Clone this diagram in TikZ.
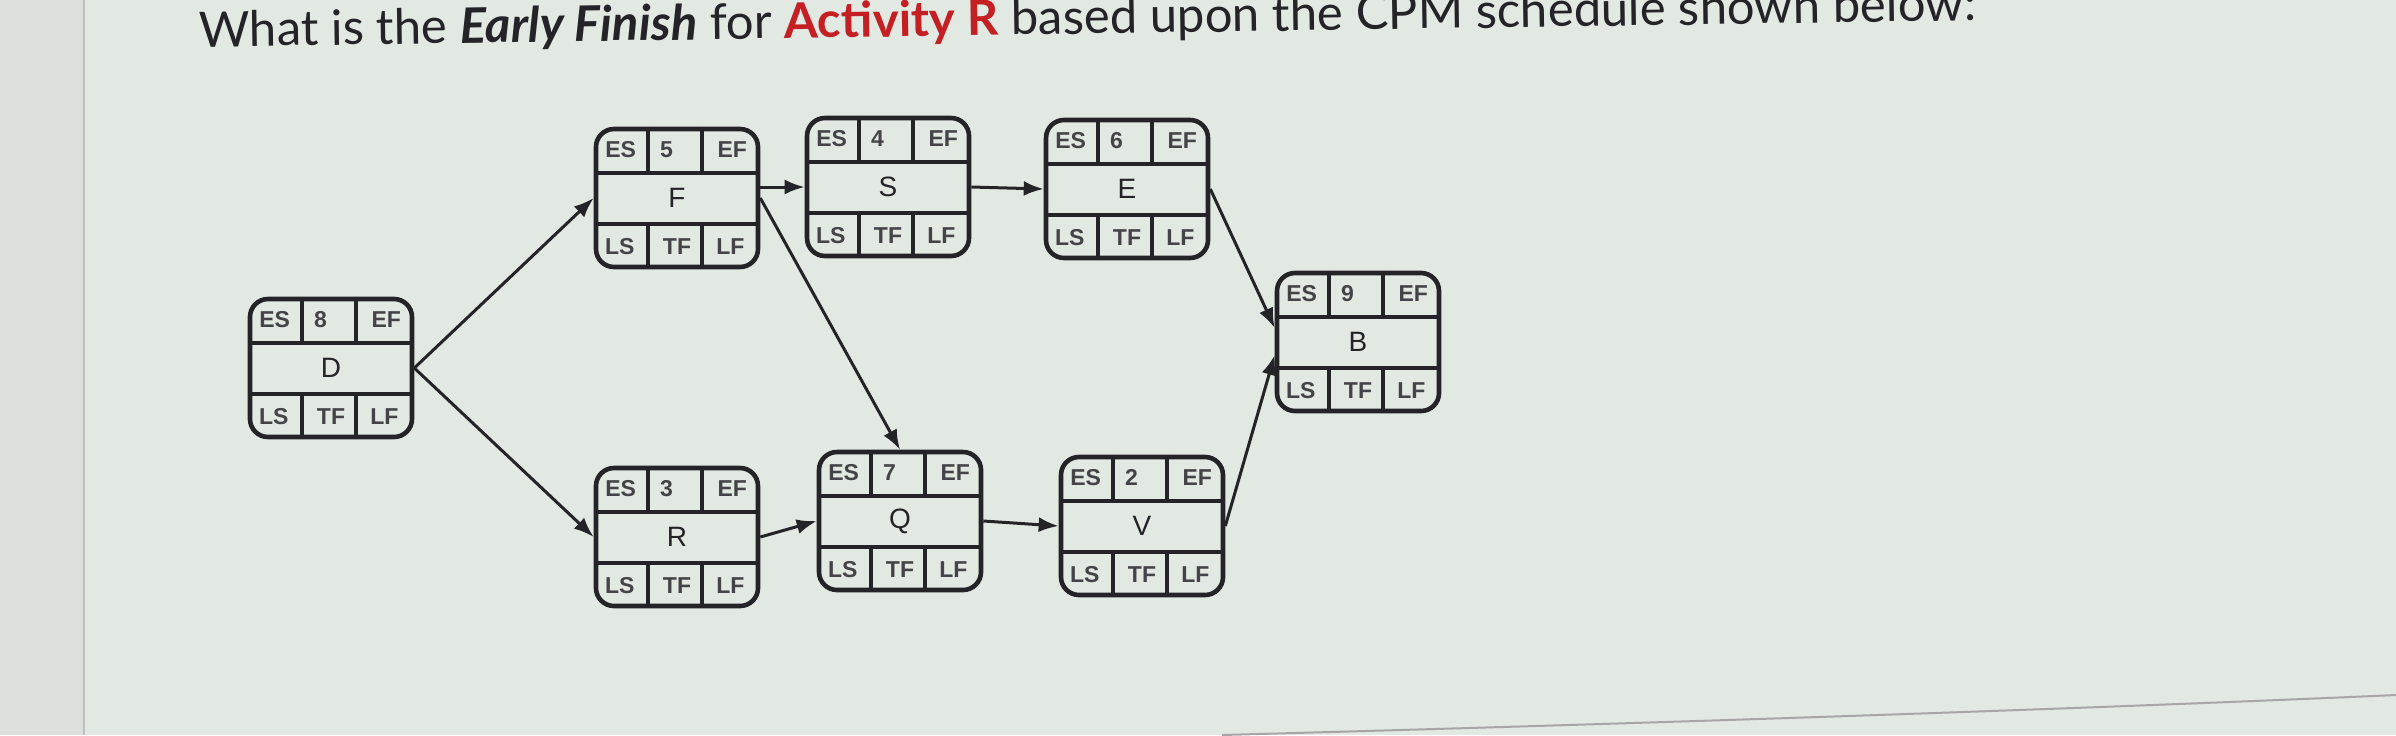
\documentclass[tikz,border=0pt]{standalone}
\usepackage{fontspec}
\setmainfont{Lato}
\newfontfamily\cellfont{Liberation Sans}
\usetikzlibrary{arrows.meta}
\definecolor{paper}{RGB}{226,232,226}
\definecolor{edge}{RGB}{221,225,222}
\definecolor{qred}{RGB}{196,32,36}
\definecolor{ink}{RGB}{35,35,40}
\tikzset{
  actbox/.style={draw=ink,line width=2.3pt,rounded corners=9pt,minimum width=81pt,minimum height=69pt,inner sep=0pt},
  rule/.style={draw=ink,line width=2pt},
  cell/.style={font=\cellfont\bfseries\fontsize{11.5}{11}\selectfont,text=ink!85,inner sep=0pt},
  actname/.style={font=\cellfont\fontsize{14}{14}\selectfont,text=ink,inner sep=0pt},
  link/.style={draw=ink,line width=1.5pt,-{Latex[length=10pt,width=7.5pt]}}
}
\begin{document}
\begin{tikzpicture}[x=0.5pt,y=-0.5pt]
\useasboundingbox (0,0) rectangle (2396,735);
\fill[paper] (0,0) rectangle (2396,735);
\fill[edge] (0,0) rectangle (84,735);
\draw[gray!50,line width=1pt] (84,0) -- (84,735);
\draw[gray!70,line width=1pt] (1222,735) .. controls (1700,722) and (2100,708) .. (2396,695);
% title line, photographed slightly tilted
\node[anchor=base west,rotate=0.85,font=\fontsize{24.5}{25}\selectfont,text=ink,inner sep=0pt] (title) at (199,47)
  {What is the \textbf{\textit{Early Finish}} for \textcolor{qred}{\textbf{Activity R}} based upon the CPM schedule shown below:};
% activity boxes: name/x/y/ES
\foreach \n/\x/\y/\v in {D/331/368/8,F/677/198/5,S/888/187/4,E/1127/189/6,B/1358/342/9,R/677/537/3,Q/900/521/7,V/1142/526/2}{
  \node[actbox] (\n) at (\x,\y) {};
  \draw[rule] ([yshift=-23pt]\n.north west) -- ([yshift=-23pt]\n.north east)
    ([yshift=22.5pt]\n.south west) -- ([yshift=22.5pt]\n.south east);
  \draw[rule] ([xshift=27pt]\n.north west) -- ++(0,46) ([xshift=54pt]\n.north west) -- ++(0,46)
    ([xshift=27pt]\n.south west) -- ++(0,-45) ([xshift=54pt]\n.south west) -- ++(0,-45);
  \node[cell] (\n-es) at ([xshift=13.5pt,yshift=-11.5pt]\n.north west) {ES};
  \node[cell,anchor=west] (\n-v) at ([xshift=33pt,yshift=-11.5pt]\n.north west) {\v};
  \node[cell] (\n-ef) at ([xshift=-14pt,yshift=-11.5pt]\n.north east) {EF};
  \node[actname] (\n-a) at (\n.center) {\n};
  \node[cell] (\n-ls) at ([xshift=13pt,yshift=11.25pt]\n.south west) {LS};
  \node[cell] (\n-tf) at ([yshift=11.25pt]\n.south) {TF};
  \node[cell] (\n-lf) at ([xshift=-15pt,yshift=11.25pt]\n.south east) {LF};
}
% precedence links
\draw[link] (D.east) -- (F.west);
\draw[link] (D.east) -- (R.west);
\draw[link] (F.east |- S.west) -- (S.west);
\draw[link] (F.east) -- (Q.north);
\draw[link] (S.east) -- (E.west);
\draw[link] (E.east) -- ([yshift=7pt]B.west);
\draw[link] (R.east) -- (Q.west);
\draw[link] (Q.east) -- (V.west);
\draw[link] (V.east) -- ([yshift=-6.5pt]B.west);
\end{tikzpicture}
\end{document}
